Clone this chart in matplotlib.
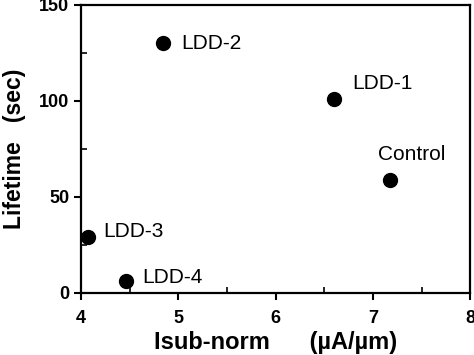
import matplotlib
matplotlib.use("Agg")
import matplotlib.pyplot as plt

plt.rcParams['font.family'] = ['Liberation Sans', 'DejaVu Sans']

# device data
names = ['LDD-2', 'LDD-1', 'Control', 'LDD-3', 'LDD-4']
isub = [4.84, 6.60, 7.18, 4.07, 4.46]
lifetime = [130, 101, 59, 29, 6]
# label offsets (points)
offsets = [(13, 0), (13, 11), (-9, 18), (11, 4), (12, 3)]

fig = plt.figure(figsize=(4.74, 3.55), dpi=100)
ax = fig.add_axes([0.171, 0.175, 0.821, 0.811])

ax.plot(isub, lifetime, 'o', color='black', markersize=10)
for n, x, y, off in zip(names, isub, lifetime, offsets):
    ax.annotate(n, (x, y), xytext=off, textcoords='offset points',
                ha='left', va='center', fontsize=15)

ax.set_xlim(4, 8)
ax.set_ylim(0, 150)
ax.set_xticks([4, 5, 6, 7, 8])
ax.set_yticks([0, 50, 100, 150])
ax.set_xticks([4.5, 5.5, 6.5, 7.5], minor=True)
ax.set_yticks([25, 75, 125], minor=True)
ax.tick_params(which='major', direction='out', length=5, width=1.5,
               labelsize=13)
ax.tick_params(axis='x', which='major', pad=7)
ax.tick_params(which='minor', direction='in', length=4, width=1.2)
for lab in ax.get_xticklabels() + ax.get_yticklabels():
    lab.set_fontweight('bold')
for s in ax.spines.values():
    s.set_linewidth(1.6)

ax.set_xlabel('Isub-norm      (\u00b5A/\u00b5m)', fontsize=17, fontweight='bold',
              labelpad=3)
ax.set_ylabel('Lifetime   (sec)', fontsize=16.5, fontweight='bold', labelpad=9)

fig.savefig('out.png', dpi=100)
